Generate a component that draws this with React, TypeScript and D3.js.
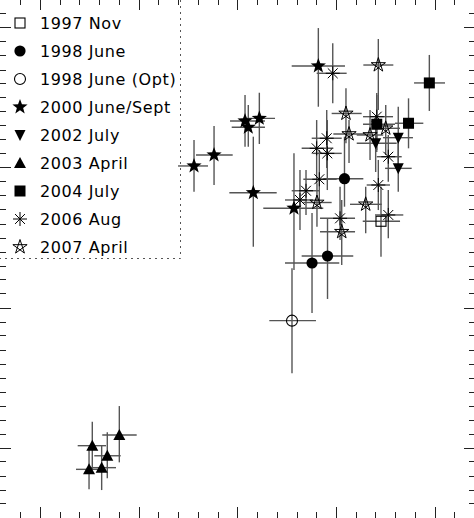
import React from "react";
import * as d3 from "d3";

// [x, xLow, xHigh, y, yLow, yHigh]
type P = [number, number, number, number, number, number];

const NOV_1997: P[] = [[3.456, 3.271, 3.649, 1.616, 1.363, 1.863]];

const JUNE_1998: P[] = [
  [3.086, 2.871, 3.277, 1.92, 1.72, 2.22],
  [2.914, 2.652, 3.175, 1.368, 1.061, 1.639],
  [2.757, 2.483, 3.033, 1.318, 0.961, 1.675],
];

const JUNE_1998_OPT: P[] = [[2.554, 2.324, 2.797, 0.906, 0.53, 1.28]];

const JUNE_SEPT_2000: P[] = [
  [2.821, 2.551, 3.091, 2.725, 2.434, 2.996],
  [2.078, 1.926, 2.28, 2.332, 2.149, 2.518],
  [2.111, 1.943, 2.28, 2.287, 2.149, 2.446],
  [2.223, 2.06, 2.382, 2.351, 2.168, 2.534],
  [1.764, 1.581, 1.953, 2.089, 1.875, 2.296],
  [1.561, 1.399, 1.703, 2.011, 1.827, 2.196],
  [2.162, 1.919, 2.399, 1.82, 1.434, 2.22],
  [2.574, 2.263, 2.871, 1.709, 1.268, 2.101],
];

const JULY_2002: P[] = [
  [3.402, 3.21, 3.615, 2.173, 1.968, 2.375],
  [3.631, 3.476, 3.78, 2.213, 1.996, 2.434],
  [3.631, 3.497, 3.767, 1.994, 1.827, 2.22],
];

const APRIL_2003: P[] = [
  [0.53, 0.382, 0.669, 0.013, -0.161, 0.184],
  [0.497, 0.365, 0.608, -0.156, -0.299, 0.004],
  [0.625, 0.507, 0.77, -0.144, -0.304, 0.018],
  [0.682, 0.55, 0.818, -0.059, -0.22, 0.109],
  [0.804, 0.631, 0.98, 0.089, -0.106, 0.296],
];

const JULY_2004: P[] = [
  [3.946, 3.791, 4.105, 2.604, 2.404, 2.804],
  [3.735, 3.598, 3.885, 2.316, 2.137, 2.494],
  [3.413, 3.274, 3.598, 2.309, 2.111, 2.532],
];

const AUG_2006: P[] = [
  [2.967, 2.804, 3.108, 2.673, 2.459, 2.887],
  [2.906, 2.754, 3.058, 2.209, 1.996, 2.411],
  [2.804, 2.652, 2.973, 2.137, 1.887, 2.339],
  [2.912, 2.76, 3.058, 2.101, 1.839, 2.339],
  [2.831, 2.669, 3.007, 1.916, 1.732, 2.125],
  [2.696, 2.551, 2.838, 1.834, 1.661, 1.982],
  [2.635, 2.483, 2.767, 1.768, 1.554, 1.982],
  [3.041, 2.838, 3.193, 1.637, 1.482, 1.863],
  [3.429, 3.311, 3.547, 1.875, 1.696, 2.054],
  [3.53, 3.413, 3.666, 2.077, 1.899, 2.232],
  [3.53, 3.395, 3.682, 1.661, 1.494, 1.839],
  [3.413, 3.274, 3.578, 2.363, 2.125, 2.518],
];

const APRIL_2007: P[] = [
  [3.429, 3.277, 3.581, 2.732, 2.411, 2.918],
  [3.101, 2.956, 3.26, 2.386, 2.173, 2.566],
  [3.132, 2.973, 3.311, 2.239, 2.032, 2.339],
  [3.345, 3.21, 3.479, 2.232, 2.054, 2.411],
  [3.504, 3.375, 3.649, 2.28, 2.089, 2.446],
  [2.807, 2.669, 2.956, 1.75, 1.577, 1.887],
  [3.301, 3.142, 3.463, 1.737, 1.53, 1.863],
  [3.058, 2.838, 3.193, 1.541, 1.304, 1.768],
];

const LABELS = [
  "1997 Nov",
  "1998 June",
  "1998 June (Opt)",
  "2000 June/Sept",
  "2002 July",
  "2003 April",
  "2004 July",
  "2006 Aug",
  "2007 April",
];

type Kind =
  | "openSquare"
  | "circle"
  | "openCircle"
  | "star"
  | "down"
  | "up"
  | "square"
  | "asterisk"
  | "openStar";

const KINDS: Kind[] = [
  "openSquare",
  "circle",
  "openCircle",
  "star",
  "down",
  "up",
  "square",
  "asterisk",
  "openStar",
];

const SERIES: P[][] = [
  NOV_1997,
  JUNE_1998,
  JUNE_1998_OPT,
  JUNE_SEPT_2000,
  JULY_2002,
  APRIL_2003,
  JULY_2004,
  AUG_2006,
  APRIL_2007,
];

const X_MAJOR = [0, 1, 2, 3, 4];
const Y_MAJOR = [0, 1, 2, 3];
const X_MINOR = d3.range(-0.2, 4.21, 0.2);
const Y_MINOR = d3.range(-0.4, 3.11, 0.1);

const W = 474;
const H = 518;

const x = d3.scaleLinear().domain([0, 4]).range([40, 434.67]);
const y = d3.scaleLinear().domain([0, 3]).range([447.5, 27.5]);

function starPath(cx: number, cy: number, ro: number, ri: number) {
  const pts: [number, number][] = [];
  for (let i = 0; i < 10; i++) {
    const a = -Math.PI / 2 + (i * Math.PI) / 5;
    const r = i % 2 === 0 ? ro : ri;
    pts.push([cx + r * Math.cos(a), cy + r * Math.sin(a)]);
  }
  return d3.line()(pts)! + "Z";
}

function pentagramPath(cx: number, cy: number, r: number) {
  const pts: [number, number][] = [];
  for (let i = 0; i < 5; i++) {
    const a = -Math.PI / 2 + (i * 2 * 2 * Math.PI) / 5;
    pts.push([cx + r * Math.cos(a), cy + r * Math.sin(a)]);
  }
  return d3.line()(pts)! + "Z";
}

function Marker({ kind, cx, cy }: { kind: Kind; cx: number; cy: number }) {
  switch (kind) {
    case "openSquare":
      return <rect x={cx - 5} y={cy - 5} width={10} height={10} fill="none" stroke="#000" strokeWidth={1.1} />;
    case "square":
      return <rect x={cx - 5.5} y={cy - 5.5} width={11} height={11} fill="#000" />;
    case "circle":
      return <circle cx={cx} cy={cy} r={5.6} fill="#000" />;
    case "openCircle":
      return <circle cx={cx} cy={cy} r={5.5} fill="none" stroke="#000" strokeWidth={1.1} />;
    case "star":
      return <path d={starPath(cx, cy, 8, 3.3)} fill="#000" />;
    case "down":
      return <path d={`M${cx - 5.5},${cy - 5}L${cx + 5.5},${cy - 5}L${cx},${cy + 6}Z`} fill="#000" />;
    case "up":
      return <path d={`M${cx - 6},${cy + 5}L${cx + 6},${cy + 5}L${cx},${cy - 6}Z`} fill="#000" />;
    case "asterisk": {
      const r = 7;
      const d = r * Math.SQRT1_2;
      return (
        <path
          d={`M${cx},${cy - r}V${cy + r}M${cx - r},${cy}H${cx + r}M${cx - d},${cy - d}L${cx + d},${cy + d}M${cx - d},${cy + d}L${cx + d},${cy - d}`}
          stroke="#000"
          strokeWidth={1}
          fill="none"
        />
      );
    }
    case "openStar":
      return <path d={pentagramPath(cx, cy, 7.5)} fill="none" stroke="#000" strokeWidth={1} strokeLinejoin="miter" />;
  }
}

export default function App() {
  const tickColor = "#222";
  return (
    <>
      <style>{"body{margin:0}"}</style>
      <svg width={W} height={H} style={{ display: "block", background: "#fff" }} fontFamily="'DejaVu Sans', sans-serif">
        {/* ticks */}
        <g stroke={tickColor} strokeWidth={1}>
          {X_MINOR.map((v, i) => {
            const isMajor = X_MAJOR.some((m) => Math.abs(m - v) < 1e-6);
            const len = isMajor ? 10 : 5;
            const px = Math.round(x(v)) + 0.5;
            return (
              <g key={"x" + i}>
                <line x1={px} x2={px} y1={0} y2={len} />
                <line x1={px} x2={px} y1={H} y2={H - len - 1} />
              </g>
            );
          })}
          {Y_MINOR.map((v, i) => {
            const isMajor = Y_MAJOR.some((m) => Math.abs(m - v) < 1e-6);
            const len = isMajor ? 10 : 5;
            const py = Math.round(y(v)) + 0.5;
            return (
              <g key={"y" + i}>
                <line x1={0} x2={len + 1} y1={py} y2={py} />
                <line x1={W} x2={W - len} y1={py} y2={py} />
              </g>
            );
          })}
        </g>

        {/* error bars */}
        <g stroke="#555" strokeWidth={1.4}>
          {SERIES.map((s, si) =>
            s.map((p, pi) => (
              <g key={`e${si}-${pi}`}>
                <line x1={x(p[1])} x2={x(p[2])} y1={y(p[3])} y2={y(p[3])} />
                <line x1={x(p[0])} x2={x(p[0])} y1={y(p[4])} y2={y(p[5])} />
              </g>
            ))
          )}
        </g>

        {/* markers */}
        <g>
          {SERIES.map((s, si) =>
            s.map((p, pi) => <Marker key={`m${si}-${pi}`} kind={KINDS[si]} cx={x(p[0])} cy={y(p[3])} />)
          )}
        </g>

        {/* legend */}
        <g>
          <path d="M180.5,0V258.5H0" fill="none" stroke="#555" strokeWidth={1} strokeDasharray="2,4" />
          {LABELS.map((lab, i) => {
            const cy = 23 + i * 28;
            return (
              <g key={"l" + i}>
                <Marker kind={KINDS[i]} cx={20} cy={cy} />
                <text x={40} y={cy + 6} fontSize={16} fill="#000" letterSpacing={0.6}>
                  {lab}
                </text>
              </g>
            );
          })}
        </g>
      </svg>
    </>
  );
}
